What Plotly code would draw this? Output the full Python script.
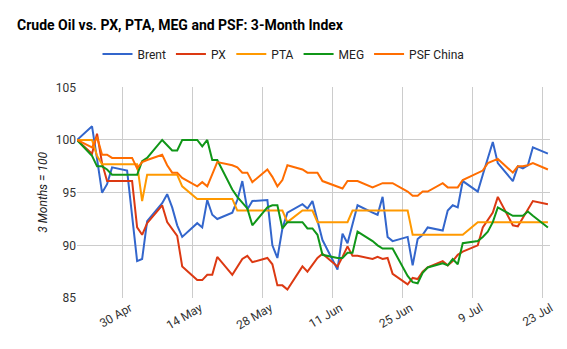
import plotly.graph_objects as go

dates = [
    "2018-04-21",
    "2018-04-24", "2018-04-25", "2018-04-26", "2018-04-27", "2018-04-28",
    "2018-05-01", "2018-05-02", "2018-05-03", "2018-05-04", "2018-05-05",
    "2018-05-08", "2018-05-09", "2018-05-10", "2018-05-11", "2018-05-12",
    "2018-05-15", "2018-05-16", "2018-05-17", "2018-05-18", "2018-05-19",
    "2018-05-22", "2018-05-23", "2018-05-24", "2018-05-25", "2018-05-26",
    "2018-05-29", "2018-05-30", "2018-05-31", "2018-06-01", "2018-06-02",
    "2018-06-05", "2018-06-06", "2018-06-07", "2018-06-08", "2018-06-09",
    "2018-06-12", "2018-06-13", "2018-06-14", "2018-06-15", "2018-06-16",
    "2018-06-19", "2018-06-20", "2018-06-21", "2018-06-22", "2018-06-23",
    "2018-06-26", "2018-06-27", "2018-06-28", "2018-06-29", "2018-06-30",
    "2018-07-03", "2018-07-04", "2018-07-05", "2018-07-06", "2018-07-07",
    "2018-07-10", "2018-07-11", "2018-07-12", "2018-07-13", "2018-07-14",
    "2018-07-17", "2018-07-18", "2018-07-19", "2018-07-20", "2018-07-21",
    "2018-07-24",
]

brent = [
    100.0,
    101.3, 98.2, 95.0, 95.8, 97.4,
    97.1, 92.8, 88.5, 88.7, 92.3,
    94.0, 94.85, 93.6, 91.9, 90.8,
    92.1, 91.7, 94.3, 92.9, 92.5,
    93.1, 94.3, 96.1, 93.4, 94.2,
    94.3, 90.0, 88.8, 91.6, 93.1,
    93.9, 93.5, 94.2, 92.2, 90.5,
    87.7, 91.1, 90.2, 91.9, 93.8,
    93.1, 92.9, 94.6, 90.8, 90.4,
    90.8, 88.1, 90.6, 91.0, 91.7,
    91.4, 93.3, 93.8, 93.6, 96.1,
    95.1, 96.7, 98.2, 99.8, 97.8,
    96.1, 97.5, 97.3, 97.6, 99.3,
    98.7,
]

px_ = [
    100.0,
    98.7, 100.6, 97.8, 96.1, 96.1,
    96.1, 96.1, 91.7, 91.0, 92.1,
    93.8, 92.2, 91.5, 90.9, 88.0,
    86.7, 86.7, 87.2, 87.2, 88.9,
    87.2, 88.0, 88.7, 89.0, 88.4,
    88.8, 88.2, 86.2, 86.2, 85.8,
    88.0, 87.5, 88.2, 88.8, 89.2,
    88.0, 88.9, 89.9, 89.0, 89.0,
    88.7, 88.9, 88.7, 88.8, 87.3,
    86.3, 86.9, 86.8, 87.5, 87.9,
    88.5, 88.1, 88.5, 89.1, 89.4,
    90.0, 91.7, 92.4, 93.1, 94.6,
    91.9, 91.8, 92.6, 93.4, 94.2,
    93.9,
]

pta = [
    100.0,
    100.0, 98.5, 97.7, 97.7, 97.7,
    97.7, 97.7, 97.7, 94.2, 96.7,
    96.7, 96.7, 96.7, 96.7, 95.6,
    94.4, 94.4, 94.4, 94.4, 94.4,
    94.4, 93.3, 93.3, 93.3, 93.3,
    93.3, 93.3, 93.3, 93.3, 92.2,
    93.3, 93.3, 93.3, 92.2, 92.2,
    92.2, 92.2, 92.2, 93.3, 93.3,
    93.3, 93.3, 93.3, 93.3, 93.3,
    93.3, 91.0, 91.0, 91.0, 91.0,
    91.0, 91.0, 91.0, 91.0, 91.0,
    92.2, 92.2, 92.2, 92.2, 92.2,
    92.2, 92.2, 92.2, 92.2, 92.2,
    92.2,
]

meg = [
    100.0,
    98.5, 97.5, 97.5, 97.2, 96.7,
    96.7, 96.7, 96.7, 98.0, 98.3,
    100.0, 99.5, 99.0, 99.0, 100.0,
    100.0, 99.4, 100.0, 98.1, 98.1,
    95.3, 94.6, 94.0, 93.5, 91.9,
    93.6, 93.8, 93.8, 91.6, 92.2,
    92.2, 91.6, 91.6, 91.0, 89.1,
    88.8, 88.8, 89.3, 89.3, 91.3,
    90.4, 90.0, 89.7, 89.7, 89.7,
    87.1, 86.5, 86.4, 87.4, 87.9,
    88.3, 88.1, 88.7, 88.2, 90.2,
    90.4, 90.8, 91.3, 92.2, 93.6,
    92.8, 92.8, 92.8, 93.2, 92.8,
    91.7,
]

psf = [
    100.0,
    99.3, 100.3, 98.6, 98.6, 98.3,
    98.3, 98.3, 97.3, 97.9, 98.1,
    98.6, 97.6, 96.9, 96.9, 96.4,
    95.6, 96.0, 95.6, 96.7, 97.9,
    97.6, 97.4, 96.9, 96.9, 96.0,
    97.2, 96.5, 95.6, 96.2, 97.6,
    97.2, 96.9, 96.9, 96.9, 96.1,
    95.6, 95.4, 96.1, 96.1, 96.1,
    95.5, 95.7, 95.9, 95.9, 95.9,
    95.1, 94.7, 94.7, 95.1, 95.1,
    95.9, 95.5, 95.5, 95.5, 96.2,
    96.9, 97.1, 97.8, 98.0, 98.2,
    96.9, 97.5, 97.5, 97.6, 97.8,
    97.2,
]

series_names = ["Brent", "PX", "PTA", "MEG", "PSF China"]
series_values = [brent, px_, pta, meg, psf]
colors = ["#3366cc", "#dc3912", "#ff9900", "#109618", "#ff6d01"]

tick_vals = ["2018-04-30", "2018-05-14", "2018-05-28", "2018-06-11",
             "2018-06-25", "2018-07-09", "2018-07-23"]
tick_text = ["30 Apr", "14 May", "28 May", "11 Jun", "25 Jun", "9 Jul", "23 Jul"]

fig = go.Figure()
for name, vals, col in zip(series_names, series_values, colors):
    fig.add_trace(go.Scatter(x=dates, y=vals, name=name, mode="lines",
                             line=dict(color=col, width=2)))

fig.update_layout(
    width=567, height=349,
    margin=dict(l=77, r=15, t=82, b=51),
    paper_bgcolor="white", plot_bgcolor="white",
    font=dict(family="Roboto", size=12, color="#222222"),
    title=dict(text="<b>Crude Oil vs. PX, PTA, MEG and PSF: 3-Month Index</b>",
               x=17 / 567, xanchor="left", xref="container",
               y=1 - 25 / 349, yanchor="middle", yref="container",
               font=dict(family="Roboto", size=14, color="#000000")),
    legend=dict(orientation="h", x=0.5, xanchor="center", xref="container",
                y=1 - 54 / 349, yanchor="middle", yref="container",
                font=dict(size=12, color="#222222")),
    showlegend=True,
)
fig.update_xaxes(
    type="date",
    range=["2018-04-21", "2018-07-24 10:00"],
    tickvals=tick_vals, ticktext=tick_text, tickangle=-30,
    showgrid=True, gridcolor="#cccccc", gridwidth=1,
    showline=False, zeroline=False, ticks="",
    tickfont=dict(size=12, color="#333333"),
    ticklabelshift=8,
)
fig.update_yaxes(
    range=[85, 105], dtick=5, tick0=85,
    showgrid=True, gridcolor="#cccccc", gridwidth=1,
    showline=False, zeroline=False, ticks="",
    tickfont=dict(size=12, color="#333333"),
)
fig.add_annotation(text="<i>3 Months = 100</i>", xref="paper", yref="paper",
                   x=(33 - 77) / 475, y=0.5, textangle=-90, showarrow=False,
                   font=dict(size=12, color="#222222"))

fig.write_html("out.html")
